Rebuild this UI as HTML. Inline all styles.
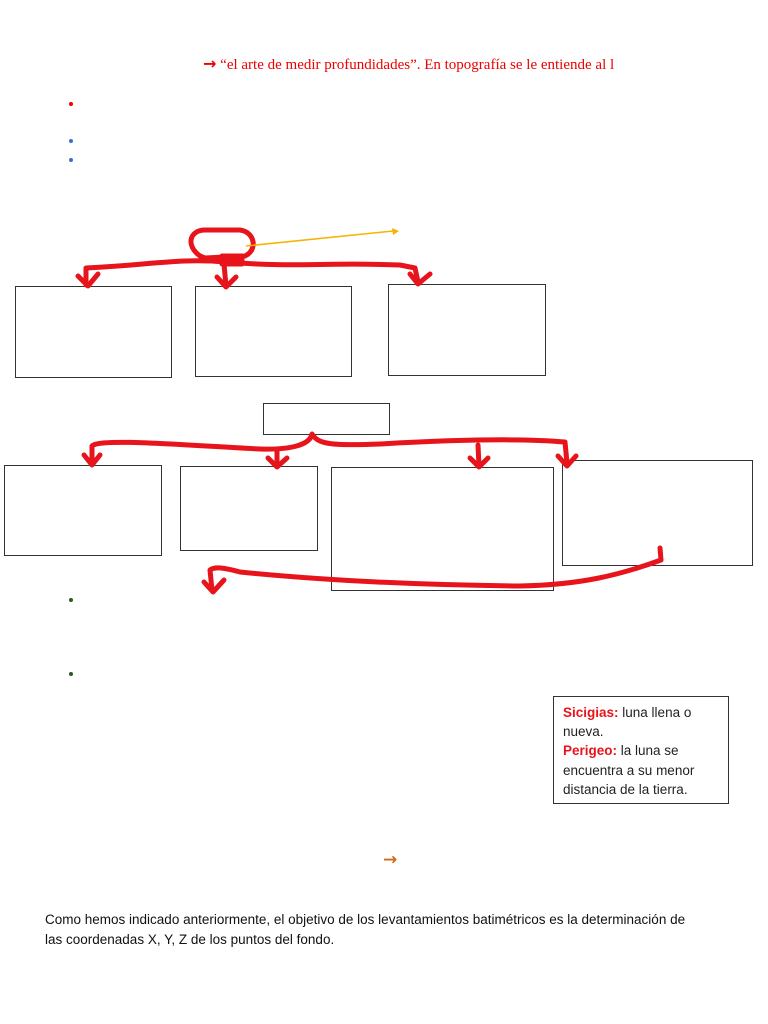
<!DOCTYPE html>
<html><head><meta charset="utf-8"><style>
body{margin:0;width:768px;height:1024px;background:#fff;position:relative;overflow:hidden;font-family:"Liberation Sans",sans-serif}
.b{position:absolute;border:1px solid #333;box-sizing:border-box}
.t{position:absolute;white-space:nowrap}
.d{position:absolute;width:4px;height:4px;border-radius:50%}
</style></head><body>
<div class="t" style="left:203px;top:54px;font-family:'Liberation Serif',serif;font-size:15px;color:#e00"><span style="font-family:'DejaVu Sans',sans-serif;font-size:16px;font-weight:bold">&#8594;</span> “el arte de medir profundidades”. En topografía se le entiende al l</div>
<div class="d" style="left:69px;top:102px;background:#e00"></div>
<div class="d" style="left:69px;top:139px;background:#3a6fd0"></div>
<div class="d" style="left:69px;top:158px;background:#3a6fd0"></div>
<div class="d" style="left:69px;top:598px;background:#2d5a1e"></div>
<div class="d" style="left:69px;top:672px;background:#2d5a1e"></div>

<div class="b" style="left:15px;top:286px;width:157px;height:92px"></div>
<div class="b" style="left:195px;top:286px;width:157px;height:91px"></div>
<div class="b" style="left:388px;top:284px;width:158px;height:92px"></div>
<div class="b" style="left:263px;top:403px;width:127px;height:32px"></div>
<div class="b" style="left:4px;top:465px;width:158px;height:91px"></div>
<div class="b" style="left:180px;top:466px;width:138px;height:85px"></div>
<div class="b" style="left:331px;top:467px;width:223px;height:124px"></div>
<div class="b" style="left:562px;top:460px;width:191px;height:106px"></div>

<svg width="768" height="1024" style="position:absolute;left:0;top:0" fill="none">
<g stroke="#e8141c" stroke-width="5" stroke-linecap="round" stroke-linejoin="round">
<path d="M200 256 C185 245 190 230 205 230 L240 230 C255 232 258 250 245 256 L205 258 Z"/>
<path d="M225 257 L226 264"/><rect x="222" y="256" width="20" height="8" fill="#e8141c"/>
<path d="M86 285 L86 268 C150 265 180 258 225 262 C300 268 320 262 400 265 L415 268 L418 282"/>
<path d="M78 276 L88 286 L98 274"/>
<path d="M224 264 L226 286"/><path d="M217 277 L226 287 L236 277"/>
<path d="M410 274 L418 284 L430 274"/>
<path d="M92 463 L92 446 C100 438 180 445 260 449 C290 450 310 445 312 434 C318 444 330 446 380 444 C450 440 520 438 565 442 L567 463"/>
<path d="M84 455 L92 465 L100 455"/>
<path d="M277 450 L277 466"/><path d="M268 458 L277 467 L287 458"/>
<path d="M478 445 L479 466"/><path d="M470 458 L479 467 L488 458"/>
<path d="M558 456 L567 466 L576 456"/>
<path d="M660 548 L661 560 C620 575 580 585 520 586 C420 585 320 580 240 572 C225 568 215 566 210 570 L212 590"/>
<path d="M204 582 L213 592 L224 580"/>
</g>
<path d="M246 246 L393 231" stroke="#f5b400" stroke-width="1.5"/>
<path d="M399 231 L392 228 L393 235 Z" fill="#f5b400"/>
</svg>

<div class="b" style="left:553px;top:696px;width:176px;height:108px;padding:6px 9px;font-size:13.5px;line-height:19.2px;color:#222;white-space:normal">
<b style="color:#e8141c">Sicigias:</b> luna llena o nueva.<br><b style="color:#e8141c">Perigeo:</b> la luna se encuentra a su menor distancia de la tierra.</div>

<div class="t" style="left:383px;top:850px;color:#d4681b;font-size:17px;font-family:'DejaVu Sans',sans-serif;font-weight:bold">&#8594;</div>
<div style="position:absolute;left:45px;top:910px;width:700px;font-size:13.5px;line-height:19.5px;color:#111;white-space:nowrap">Como hemos indicado anteriormente, el objetivo de los levantamientos batimétricos es la determinación de<br>las coordenadas X, Y, Z de los puntos del fondo.</div>
</body></html>
